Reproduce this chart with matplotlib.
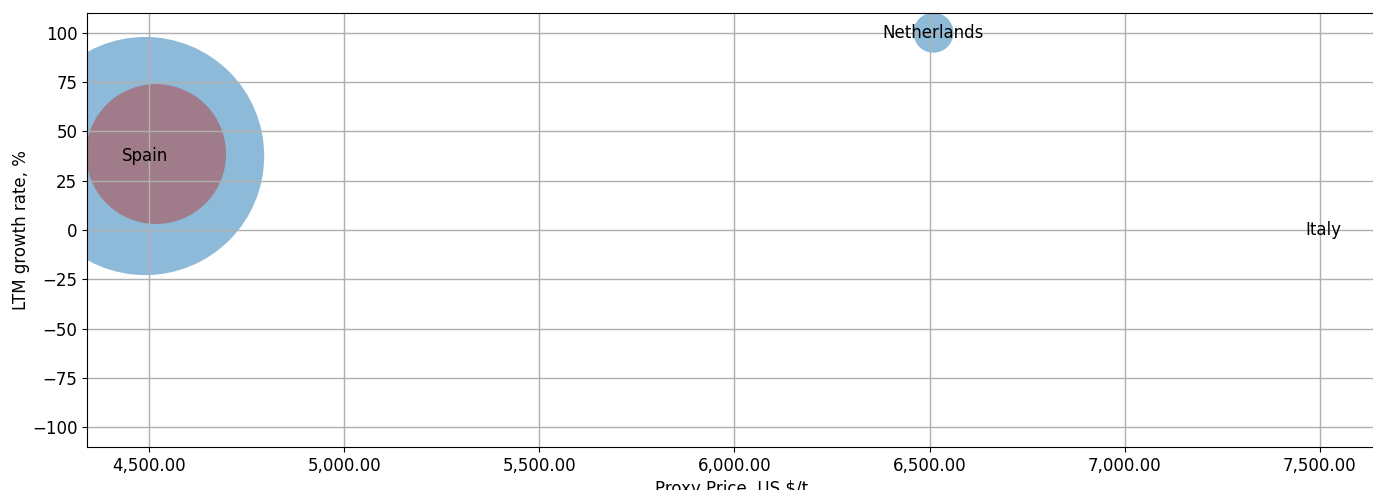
import matplotlib
matplotlib.use("Agg")
import matplotlib.pyplot as plt
from matplotlib.ticker import FuncFormatter

countries = ["Spain", "Netherlands", "Italy"]
price = [4490, 6510, 7510]
growth = [37.5, 100, 0]
size_total = [29400, 830, 0]
price_inner = [4518, 6510, 7510]
growth_inner = [38.5, 100, 0]
size_inner = [10150, 0, 0]

plt.rcParams["font.family"] = ["DejaVu Sans"]
plt.rcParams["font.size"] = 12

fig = plt.figure(figsize=(13.73, 4.90), dpi=100)
ax = fig.add_axes([87 / 1373, 43 / 490, (1376 - 87) / 1373, (447 - 13) / 490])

ax.scatter(price, growth, s=size_total, color="#1f77b4", alpha=0.5, linewidths=0)
ax.scatter(price_inner, growth_inner, s=size_inner, color="#a07b89", alpha=1.0, linewidths=0)

for c, x, y in zip(countries, price, growth):
    ax.text(x, y, c, ha="center", va="center", fontsize=12)

ax.set_xlim(4341, 7644)
ax.set_ylim(-110, 110)
ax.set_xticks([4500, 5000, 5500, 6000, 6500, 7000, 7500])
ax.set_yticks([-100, -75, -50, -25, 0, 25, 50, 75, 100])
ax.xaxis.set_major_formatter(FuncFormatter(lambda v, p: f"{v:,.2f}"))
ax.grid(True, color="#b0b0b0", linewidth=1)
ax.set_xlabel("Proxy Price, US $/t", fontsize=12)
ax.set_ylabel("LTM growth rate, %", fontsize=12, labelpad=1)

fig.savefig("out.png", dpi=100)
